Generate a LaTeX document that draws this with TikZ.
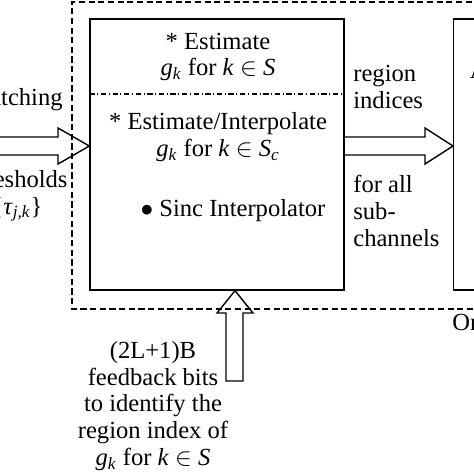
\documentclass[tikz,border=0pt]{standalone}
\usepackage{fontspec}
\setmainfont{Liberation Serif}
\usetikzlibrary{positioning,calc}
\newcommand{\mi}[1]{\textit{#1}}

\begin{document}
\begin{tikzpicture}[x=0.02cm,y=-0.02cm,font=\fontsize{14}{15.2}\selectfont]
    \tikzset{blk/.style={draw,inner sep=0pt,line width=0.8pt},
      lbl/.style={inner sep=0pt,align=left,anchor=west},
      hollow/.style={draw,line width=0.8pt,line join=miter},
      frame/.style={dash pattern=on 3.5pt off 2pt,line width=0.6pt}}
    \useasboundingbox (0,0) rectangle (474,474);
    % dashed frame round the receiver part
    \draw[frame] (520,2) -- (72,2) -- (72,309) -- (520,309);
    \node[blk,minimum width=5.08cm,minimum height=5.42cm] (est) at (217,154.5) {};
    \node[blk,minimum width=2cm,minimum height=5.42cm,anchor=west] (nxt) at (453,154.5) {};
    \draw[dash pattern=on 3pt off 1.5pt on 0.6pt off 1.5pt,line width=0.6pt] (est.west |- 0,94) -- (est.east |- 0,94);
    \node[align=center] (known) at (218,57) {* Estimate\\ \mi{g}\textsubscript{\mi{k}} for \mi{k} $\in$ \mi{S}};
    \node[align=center] (interp) at (218,137) {* Estimate/Interpolate\\ \mi{g}\textsubscript{\mi{k}} for \mi{k} $\in$ \mi{S}\textsubscript{\mi{c}}};
    \node (sinc) at (233,211) {$\bullet$\ Sinc Interpolator};
    % block arrows
    \coordinate (inTip) at (est.west |- 0,146);
    \coordinate (outTip) at (nxt.west |- 0,146);
    \coordinate (upTip) at (est.south -| 235,0);
    \draw[hollow] (-5,137) -- (58,137) -- (58,128) -- (inTip) -- (58,164) -- (58,155) -- (-5,155);
    \draw[hollow] (est.east |- 0,137) -- (425,137) -- (425,128) -- (outTip) -- (425,164) -- (425,155) -- (est.east |- 0,155);
    \draw[hollow] (226,381) -- (226,313) -- (217,313) -- (upTip) -- (253,313) -- (243,313) -- (243,381) -- cycle;
    % labels
    \node[anchor=east,inner sep=0pt] (match) at (63,100) {matching};
    \node[align=center,inner sep=0pt] (thr) at (17,196) {thresholds\\ \{\mi{τ}\textsubscript{\mi{j,k}}\}};
    \node[lbl] (reg) at (353,87) {region\\ indices};
    \node[lbl] (all) at (353,211) {for all\\ sub-\\ channels};
    \node[align=center,inner sep=0pt] (fb) at (153,406) {(2L+1)B\\ feedback bits\\ to identify the\\ region index of\\ \mi{g}\textsubscript{\mi{k}} for \mi{k} $\in$ \mi{S}};
    \node[anchor=west,inner sep=0pt] (only) at (452,322) {On};
    \node[anchor=west,inner sep=0pt] (nxtTxt) at (469.5,70) {A};
\end{tikzpicture}
\end{document}
